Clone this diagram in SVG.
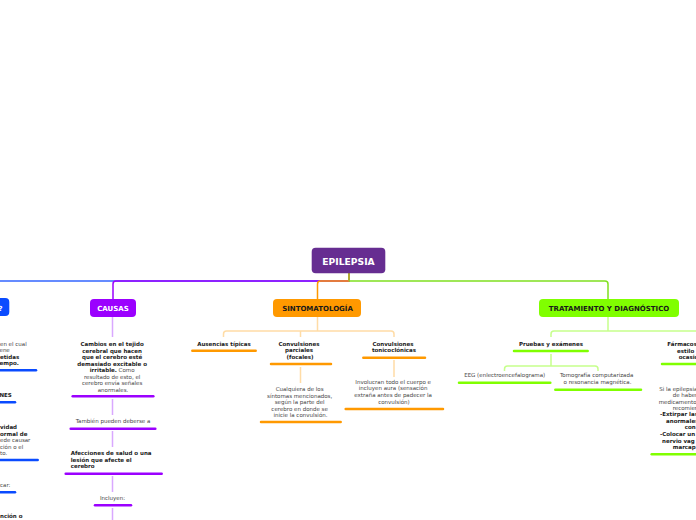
<svg xmlns="http://www.w3.org/2000/svg" width="696" height="520" viewBox="0 0 696 520">
<style>
.t{font-family:"DejaVu Sans",Verdana,sans-serif;font-size:5.5px;fill:#444}
.b{font-weight:bold;fill:#1a1a1a}
.c{text-anchor:middle}
.n{font-family:"DejaVu Sans",Verdana,sans-serif;font-weight:bold;font-size:7px;text-anchor:middle}
.bar{stroke-width:2.5;stroke-linecap:round;fill:none}
.ln{fill:none;stroke-width:1.5}
</style>
<rect width="696" height="520" fill="#fff"/>
<g id="connectors">
  <path class="ln" stroke="#3366ff" d="M349 273V281H-10"/>
  <path class="ln" stroke="#9b00ff" d="M349 273V281H116Q113 281 113 284V299"/>
  <path class="ln" stroke="#ff9900" d="M349 273V281H320.5Q317.5 281 317.5 284V299"/>
  <path class="ln" stroke="#80e020" d="M349 281H605Q608 281 608 284V299"/>
  <path class="ln" stroke="#a0b830" d="M349 273V281"/>
  <g stroke="#d9a8ff" class="ln">
    <path d="M112.5 317V337M112.5 399V415M112.5 431V447M112.5 476V492M112.5 508V520"/>
  </g>
  <g stroke="#ffdca6" class="ln">
    <path d="M317.5 317V331H226.5Q223.5 331 223.5 334V337M300.5 331Q300.5 331 300.5 334V337M317.5 331H391Q394 331 394 334V337M300.5 367V383M394 360V377"/>
  </g>
  <g stroke="#c6ff8c" class="ln">
    <path d="M608 317V331H554Q551 331 551 334V337M608 331H700M551 354V366H507.5Q504.5 366 504.5 369V371M551 366H595Q598 366 598 369V371"/>
  </g>
</g>
<g id="epilepsia">
  <rect x="311.7" y="247.7" width="73.6" height="25.6" rx="4" fill="#662d91"/>
  <text class="n" x="348.5" y="264.5" fill="#fff" style="font-size:9.2px">EPILEPSIA</text>
</g>
<g id="que-es">
  <rect x="-40" y="298" width="49.3" height="18" rx="4" fill="#0a4bff"/>
  <text class="n" x="-1.5" y="310.5" fill="#fff" style="text-anchor:start">?</text>
  <text class="t" x="0" y="346">en el cual</text>
  <text class="t" x="-0.5" y="352">ene</text>
  <text class="t b" x="0" y="359.3">etidas</text>
  <text class="t b" x="-0.5" y="365.3">empo.</text>
  <line class="bar" stroke="#0a4bff" x1="-5" y1="370.3" x2="36" y2="370.3"/>
  <text class="t b" x="-0.5" y="397">NES</text>
  <line class="bar" stroke="#0a4bff" x1="-5" y1="402.3" x2="15" y2="402.3"/>
  <text class="t b" x="0" y="429.3">vidad</text>
  <text class="t b" x="0" y="435.7">ormal de</text>
  <text class="t" x="0" y="442.3">ede causar</text>
  <text class="t" x="0" y="449">ción o el</text>
  <text class="t" x="0" y="455.3">to.</text>
  <line class="bar" stroke="#0a4bff" x1="-5" y1="460" x2="37.7" y2="460"/>
  <text class="t" x="0" y="487.3">car:</text>
  <line class="bar" stroke="#0a4bff" x1="-5" y1="492.3" x2="15" y2="492.3"/>
  <text class="t b" x="0" y="518">nción o</text>
</g>
<g id="causas">
  <rect x="90" y="299" width="46" height="18" rx="4" fill="#9b00ff"/>
  <text class="n" x="113" y="310.5" fill="#fff">CAUSAS</text>
  <text class="t c" x="113">
    <tspan class="b" x="113" y="346">Cambios en el tejido</tspan>
    <tspan class="b" x="113" y="352.5">cerebral que hacen</tspan>
    <tspan class="b" x="113" y="359">que el cerebro esté</tspan>
    <tspan class="b" x="113" y="365.5">demasiado excitable o</tspan>
    <tspan x="113" y="372"><tspan class="b">irritable.</tspan> Como</tspan>
    <tspan x="113" y="378.5">resultado de esto, el</tspan>
    <tspan x="113" y="385">cerebro envía señales</tspan>
    <tspan x="113" y="391.5">anormales.</tspan>
  </text>
  <line class="bar" stroke="#9b00ff" x1="72.7" y1="396.3" x2="153.3" y2="396.3"/>
  <text class="t c" x="113" y="423.3">También pueden deberse a</text>
  <line class="bar" stroke="#9b00ff" x1="70.7" y1="428.7" x2="155.3" y2="428.7"/>
  <text class="t b">
    <tspan x="70.7" y="455">Afecciones de salud o una</tspan>
    <tspan x="70.7" y="462">lesión que afecte el</tspan>
    <tspan x="70.7" y="468.3">cerebro</tspan>
  </text>
  <line class="bar" stroke="#9b00ff" x1="65.7" y1="473.7" x2="161.7" y2="473.7"/>
  <text class="t c" x="112.5" y="500">Incluyen:</text>
  <line class="bar" stroke="#9b00ff" x1="95" y1="505.3" x2="131" y2="505.3"/>
</g>
<g id="sintomatologia">
  <rect x="273" y="299" width="88" height="18" rx="4" fill="#ff9900"/>
  <text class="n" x="317.5" y="310.5" fill="#1a1a1a">SINTOMATOLOGÍA</text>
  <text class="t b c" x="224" y="345.7">Ausencias típicas</text>
  <line class="bar" stroke="#ff9900" x1="192.3" y1="350.7" x2="255.7" y2="350.7"/>
  <text class="t b c">
    <tspan x="300" y="345.7">Convulsiones</tspan>
    <tspan x="300" y="352.3">parciales</tspan>
    <tspan x="300" y="359">(focales)</tspan>
  </text>
  <line class="bar" stroke="#ff9900" x1="271" y1="364" x2="331" y2="364"/>
  <text class="t c">
    <tspan x="300.5" y="391">Cualquiera de los</tspan>
    <tspan x="300.5" y="397.7">síntomas mencionados,</tspan>
    <tspan x="300.5" y="404.3">según la parte del</tspan>
    <tspan x="300.5" y="410.7">cerebro en donde se</tspan>
    <tspan x="300.5" y="417.3">inicie la convulsión.</tspan>
  </text>
  <line class="bar" stroke="#ff9900" x1="261" y1="422" x2="340.7" y2="422"/>
  <text class="t b c">
    <tspan x="394" y="345.7">Convulsiones</tspan>
    <tspan x="394" y="352">tonicoclónicas</tspan>
  </text>
  <line class="bar" stroke="#ff9900" x1="363.3" y1="357.7" x2="425" y2="357.7"/>
  <text class="t c">
    <tspan x="394" y="383.7">Involucran todo el cuerpo e</tspan>
    <tspan x="394" y="390.3">incluyen aura (sensación</tspan>
    <tspan x="394" y="397">extraña antes de padecer la</tspan>
    <tspan x="394" y="403.7">convulsión)</tspan>
  </text>
  <line class="bar" stroke="#ff9900" x1="345.7" y1="409" x2="443" y2="409"/>
</g>
<g id="tratamiento">
  <rect x="539" y="299" width="140" height="18" rx="4" fill="#80ff00"/>
  <text class="n" x="609" y="310.5" fill="#1a1a1a">TRATAMIENTO Y DIAGNÓSTICO</text>
  <text class="t b c" x="551" y="346">Pruebas y exámenes</text>
  <line class="bar" stroke="#80ff00" x1="514" y1="351" x2="587.7" y2="351"/>
  <text class="t c" x="504.7" y="377">EEG (enlectroencefalograma)</text>
  <line class="bar" stroke="#80ff00" x1="459" y1="382.7" x2="550.3" y2="382.7"/>
  <text class="t c">
    <tspan x="597.5" y="377">Tomografía computarizada</tspan>
    <tspan x="597.5" y="384">o resonancia magnética.</tspan>
  </text>
  <line class="bar" stroke="#80ff00" x1="555.3" y1="389.7" x2="641" y2="389.7"/>
  <text class="t b" x="667.3" y="346">Fármacos</text>
  <text class="t b" x="677" y="352.5">estilo</text>
  <text class="t b" x="678.7" y="359">ocasio</text>
  <line class="bar" stroke="#80ff00" x1="662" y1="364" x2="700" y2="364"/>
  <text class="t" x="659.3" y="391.3">Si la epilepsia</text>
  <text class="t" x="672.7" y="397.3">de haber</text>
  <text class="t" x="658.7" y="404">medicamento</text>
  <text class="t" x="672.7" y="410">recomier</text>
  <text class="t b" x="660" y="416.3">-Extirpar las</text>
  <text class="t b" x="666" y="422.7">anormales</text>
  <text class="t b" x="684.7" y="429">con</text>
  <text class="t b" x="660" y="435.7">-Colocar un</text>
  <text class="t b" x="662" y="442.5">nervio vag</text>
  <text class="t b" x="672.7" y="449">marcap</text>
  <line class="bar" stroke="#80ff00" x1="651.7" y1="454.3" x2="700" y2="454.3"/>
</g>
</svg>
